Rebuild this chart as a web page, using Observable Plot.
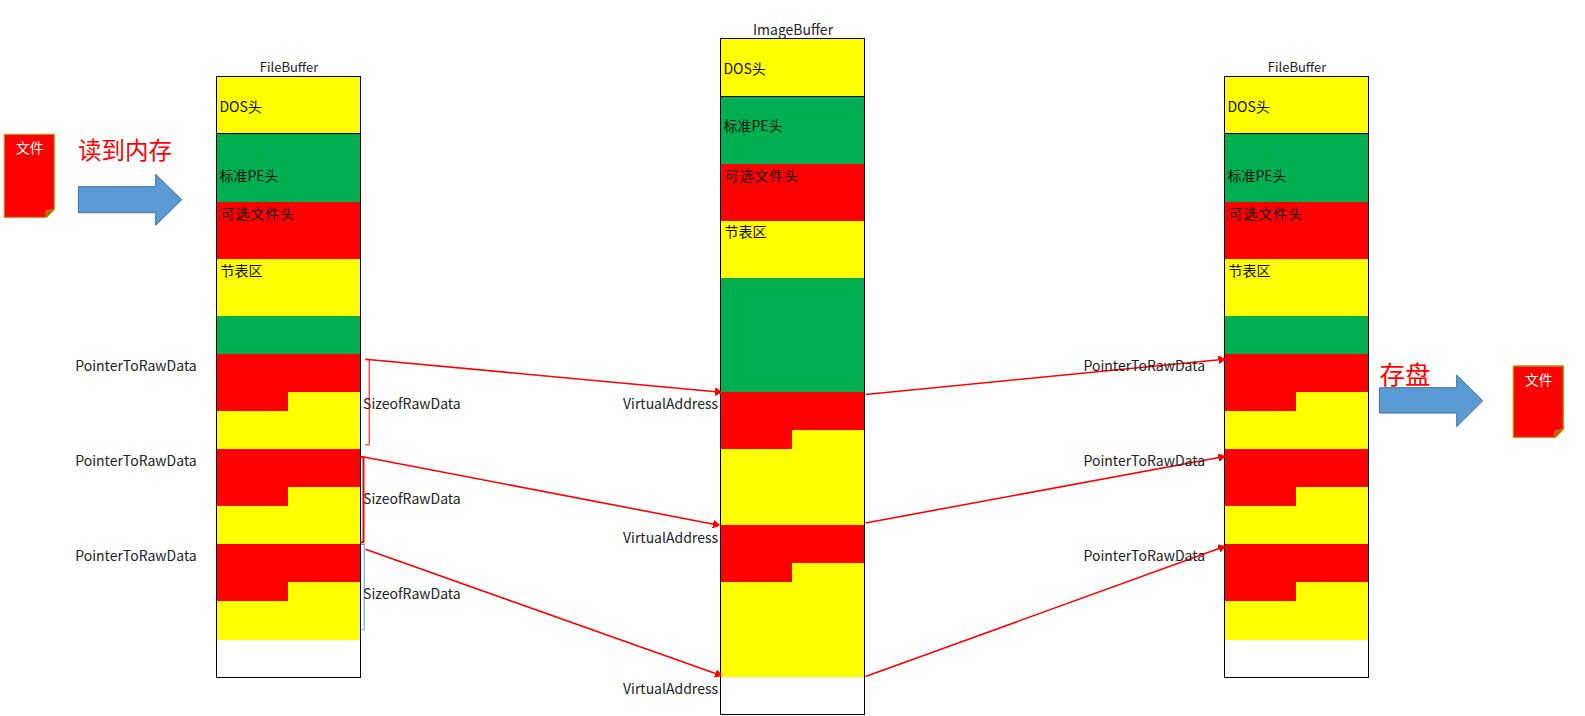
<!DOCTYPE html>
<html><head><meta charset="utf-8">
<script src="https://cdn.jsdelivr.net/npm/d3@7"></script>
<script src="https://cdn.jsdelivr.net/npm/@observablehq/plot@0.6"></script>
<style>html,body{margin:0;padding:0;background:#fff;overflow:hidden}svg{display:block}
.wide text{letter-spacing:0.9px}</style></head><body><div id="c"></div><script>
const YEL="#FFFF00",GRN="#00B050",RED="#FF0000";
const columnNames=["FileBuffer","ImageBuffer","FileBuffer"];
const columnLeft=[216.5,720.5,1224.5];
const columnWidth=144;
const columnTop=[76.5,38.5,76.5];
const columnBottom=[677.5,714.5,677.5];
const columnTitleY=[67.7,30.5,67.7];
const headDivider=[133,95.5,133];
const fileEdges=[76.5,133,201.7,258.7,315.7,353.7];
const imageEdges=[38.5,95.5,163.7,220.7,278,391.7];
const headColors=[YEL,GRN,RED,YEL,GRN];
const fileSections=[[353.7,391.7,411,449],[449,486.7,505.7,543.7],[543.7,581.7,600.7,639.7]];
const imageSections=[[391.7,429.7,448.7,524.5],[524.5,562.7,581.7,677]];
const headNames=["DOS头","标准PE头","节表区"];
const fileHeadY=[106.7,176,270.7];
const imageHeadY=[69.3,126,232];
const optionalName="可选文件头";
const optionalY=[214,175.7,214];
const pointerY=[366,461,556];
const pointerX=[74.7,1083];
const sizeY=[404,499,594];
const virtualY=[404,537.6,689];
const arrowFrom=[[365,358.8],[360.8,456],[365,548.8],[865,394],[865,522.5],[865,676]];
const arrowTo=[[720.6,391.7],[718.5,524.7],[720.6,675],[1224,358.8],[1224,456],[1224,546]];

const rects=[],text=[];
columnLeft.forEach((L,c)=>{
  const edges=c==1?imageEdges:fileEdges, secs=c==1?imageSections:fileSections;
  headColors.forEach((col,i)=>rects.push({x1:L,x2:L+columnWidth,y1:edges[i],y2:edges[i+1],col}));
  secs.forEach(s=>{
    rects.push({x1:L,x2:L+columnWidth,y1:s[0],y2:s[3],col:YEL});
    rects.push({x1:L,x2:L+columnWidth,y1:s[0],y2:s[1],col:RED});
    rects.push({x1:L,x2:L+71.5,y1:s[0],y2:s[2],col:RED});
  });
});
const frames=columnLeft.map((L,i)=>({x1:L,x2:L+columnWidth,y1:columnTop[i],y2:columnBottom[i]}));
const dividers=columnLeft.map((L,i)=>({x1:L,x2:L+columnWidth,y:headDivider[i]}));
const titles=columnLeft.map((L,i)=>({x:L+columnWidth/2,y:columnTitleY[i],t:columnNames[i]}));
columnLeft.forEach((L,c)=>{
  const ys=c==1?imageHeadY:fileHeadY;
  headNames.forEach((t,i)=>text.push({x:L+(i==2?3.6:2.4),y:ys[i],t}));
});
const optional=columnLeft.map((L,i)=>({x:L+3.6,y:optionalY[i],t:optionalName}));
const links=arrowFrom.map((a,i)=>({x1:a[0],y1:a[1],x2:arrowTo[i][0],y2:arrowTo[i][1]}));
const pointers=pointerX.flatMap(x=>pointerY.map(y=>({x,y,t:"PointerToRawData"})));
const sizes=sizeY.map(y=>({x:362.6,y,t:"SizeofRawData"}));
const virtuals=virtualY.map(y=>({x:717.5,y,t:"VirtualAddress"}));

function blockArrow(x0,xh,xt,bt,bb,ht,hb){const m=(ht+hb)/2;
  return [{x:x0,a:bt,b:bb},{x:xh,a:bt,b:bb},{x:xh,a:ht,b:hb},{x:xt,a:m,b:m}];}
function doc(l,r,t,b,f=8){return [{x:l,a:t,b},{x:r-f,a:t,b},{x:r,a:t,b:b-f}];}
function fold(r,b,f=8){return [{x:r-f,a:b-f+1.5,b},{x:r,a:b-f,b:b-f}];}
const blocks=[blockArrow(78.8,155.7,181.7,186.7,212.7,174.3,225.3),blockArrow(1379.8,1456.7,1482.7,387.7,413,375,426.7)];
const docs=[[4.3,54.3,134.3,217.3],[1513.3,1563.3,366,437.3]];

const font='"Noto Sans CJK SC",sans-serif';
function tri(color){
  const ns="http://www.w3.org/2000/svg";
  const m=document.createElementNS(ns,"marker");
  m.setAttribute("viewBox","-6 -4 7 8");m.setAttribute("markerWidth","7");m.setAttribute("markerHeight","8");
  m.setAttribute("markerUnits","userSpaceOnUse");m.setAttribute("orient","auto");
  const p=document.createElementNS(ns,"path");p.setAttribute("d","M-6,-3.5L0,0L-6,3.5Z");p.setAttribute("fill",color);
  m.appendChild(p);return m;
}
const lbl=(d,o={})=>Plot.text(d,{x:"x",y:"y",text:"t",fontFamily:font,fontSize:14,textAnchor:"start",fill:"#111",lineAnchor:"middle",...o});
const bracket=(x0,x1,y0,y1,stroke,sw)=>Plot.line([{x:x0,y:y0},{x:x1,y:y0},{x:x1,y:y1},{x:x0,y:y1}],{x:"x",y:"y",stroke,strokeWidth:sw});

const plot=Plot.plot({width:1585,height:716,margin:0,
  x:{domain:[0,1585],range:[0,1585],axis:null},
  y:{domain:[0,716],range:[0,716],axis:null},
  style:{background:"#fff"},
  marks:[
    Plot.rect(rects,{x1:"x1",x2:"x2",y1:"y1",y2:"y2",fill:"col",shapeRendering:"crispEdges"}),
    Plot.rect(frames,{x1:"x1",x2:"x2",y1:"y1",y2:"y2",fill:"none",stroke:"#000",strokeWidth:1.2,shapeRendering:"crispEdges"}),
    Plot.ruleY(dividers,{x1:"x1",x2:"x2",y:"y",stroke:"#000",strokeWidth:1,shapeRendering:"crispEdges"}),
    bracket(365,368.7,359.3,444.3,RED,1),
    bracket(360.5,363,456.7,541.7,RED,2),
    bracket(361,363.7,544,629.3,"#5B9BD5",1),
    Plot.link(links,{x1:"x1",y1:"y1",x2:"x2",y2:"y2",stroke:RED,strokeWidth:1.6,markerEnd:tri}),
    ...blocks.map(b=>Plot.areaY(b,{x:"x",y1:"a",y2:"b",fill:"#5B9BD5",stroke:"#41719C",strokeWidth:1})),
    ...docs.flatMap(d=>[
      Plot.areaY(doc(...d),{x:"x",y1:"a",y2:"b",fill:RED,stroke:"#BF9000",strokeWidth:1.3}),
      Plot.areaY(fold(d[1],d[3]),{x:"x",y1:"a",y2:"b",fill:"#C55A11",stroke:"#BF9000",strokeWidth:1})
    ]),
    lbl(titles.filter((_,i)=>i!=1),{textAnchor:"middle",fill:"#222",fontSize:13}),
    lbl(titles.filter((_,i)=>i==1),{textAnchor:"middle",fill:"#222"}),
    lbl(text),
    lbl(optional,{className:"wide"}),
    lbl(pointers,{fill:"#222"}),
    lbl(sizes,{fill:"#222"}),
    lbl(virtuals,{textAnchor:"end",fill:"#222"}),
    lbl([{x:29.3,y:148,t:"文件"},{x:1538.3,y:380,t:"文件"}],{textAnchor:"middle",fill:"#fff"}),
    lbl([{x:77.5,y:151,t:"读到内存"}],{fontSize:23.5,fill:RED}),
    lbl([{x:1379,y:375,t:"存盘"}],{fontSize:25.5,fill:RED})
  ]});
document.getElementById("c").appendChild(plot);
</script></body></html>
